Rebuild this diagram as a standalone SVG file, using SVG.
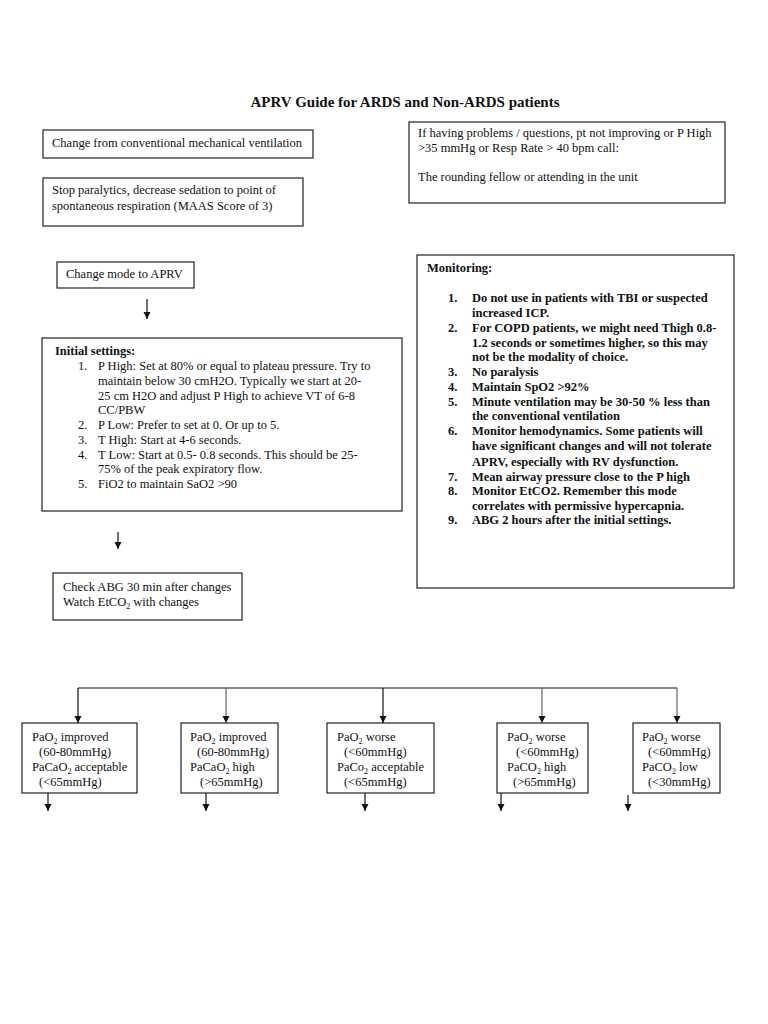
<svg xmlns="http://www.w3.org/2000/svg" width="768" height="1024" viewBox="0 0 768 1024">
<style>
text{font-family:"Liberation Serif","Times New Roman",serif;font-size:12.5px;fill:#111}
.b{font-weight:bold}
.t{font-weight:bold;font-size:15px}
.box{fill:#fff;stroke:#222;stroke-width:1.2}
.ln{stroke:#111;stroke-width:1.2;fill:none}
.lg{stroke:#666;stroke-width:1.2;fill:none}
.s{font-size:8px}
</style>
<defs>
<marker id="ah" markerWidth="8" markerHeight="8" refX="7" refY="4" orient="auto" markerUnits="userSpaceOnUse">
<path d="M0,0.5 L7,4 L0,7.5 Z" fill="#111"/>
</marker>
</defs>
<rect width="768" height="1024" fill="#fff"/>
<text class="t" x="405" y="107" text-anchor="middle">APRV Guide for ARDS and Non-ARDS patients</text>

<g id="n_change_conv">
<rect class="box" x="43" y="130" width="270" height="28"/>
<text x="52" y="147">Change from conventional mechanical ventilation</text>
</g>
<g id="n_stop_paralytics">
<rect class="box" x="43" y="178" width="260" height="48"/>
<text x="52" y="194">Stop paralytics, decrease sedation to point of</text>
<text x="52" y="210">spontaneous respiration (MAAS Score of 3)</text>
</g>
<g id="n_problems">
<rect class="box" x="409" y="122" width="316" height="81"/>
<text x="418" y="137">If having problems / questions, pt not improving or P High</text>
<text x="418" y="152">&gt;35 mmHg or Resp Rate &gt; 40 bpm call:</text>
<text x="418" y="181">The rounding fellow or attending in the unit</text>
</g>
<g id="n_change_mode">
<rect class="box" x="57" y="262" width="137" height="26"/>
<text x="66" y="278">Change mode to APRV</text>
</g>
<g id="n_initial">
<rect class="box" x="42" y="338" width="360" height="173"/>
<text class="b" x="55" y="355">Initial settings:</text>
<text x="78" y="370">1.</text><text x="98" y="370">P High: Set at 80% or equal to plateau pressure. Try to</text>
<text x="98" y="385">maintain below 30 cmH2O. Typically we start at 20-</text>
<text x="98" y="400">25 cm H2O and adjust P High to achieve VT of 6-8</text>
<text x="98" y="414">CC/PBW</text>
<text x="78" y="429">2.</text><text x="98" y="429">P Low: Prefer to set at 0. Or up to 5.</text>
<text x="78" y="444">3.</text><text x="98" y="444">T High: Start at 4-6 seconds.</text>
<text x="78" y="459">4.</text><text x="98" y="459">T Low: Start at 0.5- 0.8 seconds. This should be 25-</text>
<text x="98" y="473">75% of the peak expiratory flow.</text>
<text x="78" y="488">5.</text><text x="98" y="488">FiO2 to maintain SaO2 &gt;90</text>
</g>
<g id="n_monitoring" class="b">
<rect class="box" x="417" y="255" width="317" height="333"/>
<text class="b" x="427" y="272">Monitoring:</text>
<text class="b" x="448" y="302">1.</text><text class="b" x="472" y="302">Do not use in patients with TBI or suspected</text>
<text class="b" x="472" y="316.5">increased ICP.</text>
<text class="b" x="448" y="332">2.</text><text class="b" x="472" y="332">For COPD patients, we might need Thigh 0.8-</text>
<text class="b" x="472" y="347">1.2 seconds or sometimes higher, so this may</text>
<text class="b" x="472" y="361">not be the modality of choice.</text>
<text class="b" x="448" y="376">3.</text><text class="b" x="472" y="376">No paralysis</text>
<text class="b" x="448" y="391">4.</text><text class="b" x="472" y="391">Maintain SpO2 &gt;92%</text>
<text class="b" x="448" y="406">5.</text><text class="b" x="472" y="406">Minute ventilation may be 30-50 % less than</text>
<text class="b" x="472" y="420">the conventional ventilation</text>
<text class="b" x="448" y="435">6.</text><text class="b" x="472" y="435">Monitor hemodynamics. Some patients will</text>
<text class="b" x="472" y="450">have significant changes and will not tolerate</text>
<text class="b" x="472" y="466">APRV, especially with RV dysfunction.</text>
<text class="b" x="448" y="481">7.</text><text class="b" x="472" y="481">Mean airway pressure close to the P high</text>
<text class="b" x="448" y="495">8.</text><text class="b" x="472" y="495">Monitor EtCO2. Remember this mode</text>
<text class="b" x="472" y="510">correlates with permissive hypercapnia.</text>
<text class="b" x="448" y="524">9.</text><text class="b" x="472" y="524">ABG 2 hours after the initial settings.</text>
</g>
<g id="n_check_abg">
<rect class="box" x="53" y="573" width="189" height="47"/>
<text x="63" y="591">Check ABG 30 min after changes</text>
<text x="63" y="606">Watch EtCO<tspan class="s" dy="3">2</tspan><tspan dy="-3"> with changes</tspan></text>
</g>
<g id="n_a">
<rect class="box" x="22" y="723" width="115" height="70"/>
<text x="32" y="741">PaO<tspan class="s" dy="3">2</tspan><tspan dy="-3"> improved</tspan></text>
<text x="39" y="756">(60-80mmHg)</text>
<text x="32" y="771">PaCaO<tspan class="s" dy="3">2</tspan><tspan dy="-3"> acceptable</tspan></text>
<text x="39" y="786">(&lt;65mmHg)</text>
</g>
<g id="n_b">
<rect class="box" x="181" y="723" width="97" height="70"/>
<text x="190" y="741">PaO<tspan class="s" dy="3">2</tspan><tspan dy="-3"> improved</tspan></text>
<text x="197" y="756">(60-80mmHg)</text>
<text x="190" y="771">PaCaO<tspan class="s" dy="3">2</tspan><tspan dy="-3"> high</tspan></text>
<text x="200" y="786">(&gt;65mmHg)</text>
</g>
<g id="n_c">
<rect class="box" x="327" y="723" width="107" height="70"/>
<text x="337" y="741">PaO<tspan class="s" dy="3">2</tspan><tspan dy="-3"> worse</tspan></text>
<text x="344" y="756">(&lt;60mmHg)</text>
<text x="337" y="771">PaCo<tspan class="s" dy="3">2</tspan><tspan dy="-3"> acceptable</tspan></text>
<text x="344" y="786">(&lt;65mmHg)</text>
</g>
<g id="n_d">
<rect class="box" x="497" y="723" width="91" height="70"/>
<text x="507" y="741">PaO<tspan class="s" dy="3">2</tspan><tspan dy="-3"> worse</tspan></text>
<text x="516" y="756">(&lt;60mmHg)</text>
<text x="507" y="771">PaCO<tspan class="s" dy="3">2</tspan><tspan dy="-3"> high</tspan></text>
<text x="513" y="786">(&gt;65mmHg)</text>
</g>
<g id="n_e">
<rect class="box" x="633" y="723" width="87" height="70"/>
<text x="642" y="741">PaO<tspan class="s" dy="3">2</tspan><tspan dy="-3"> worse</tspan></text>
<text x="648" y="756">(&lt;60mmHg)</text>
<text x="642" y="771">PaCO<tspan class="s" dy="3">2</tspan><tspan dy="-3"> low</tspan></text>
<text x="648" y="786">(&lt;30mmHg)</text>
</g>

<g id="connectors">
<line class="ln" x1="147" y1="299" x2="147" y2="319" marker-end="url(#ah)"/>
<line class="ln" x1="118" y1="532" x2="118" y2="549" marker-end="url(#ah)"/>
<line class="ln" x1="78" y1="688" x2="677" y2="688"/>
<line class="ln" x1="78" y1="688" x2="78" y2="723" marker-end="url(#ah)"/>
<line class="lg" x1="226" y1="688" x2="226" y2="723" marker-end="url(#ah)"/>
<line class="ln" x1="383" y1="688" x2="383" y2="723" marker-end="url(#ah)"/>
<line class="lg" x1="542" y1="688" x2="542" y2="723" marker-end="url(#ah)"/>
<line class="lg" x1="677" y1="688" x2="677" y2="723" marker-end="url(#ah)"/>
<line class="ln" x1="48" y1="793" x2="48" y2="811" marker-end="url(#ah)"/>
<line class="ln" x1="206" y1="793" x2="206" y2="811" marker-end="url(#ah)"/>
<line class="ln" x1="365" y1="793" x2="365" y2="811" marker-end="url(#ah)"/>
<line class="ln" x1="501" y1="793" x2="501" y2="811" marker-end="url(#ah)"/>
<line class="ln" x1="628" y1="795" x2="628" y2="811" marker-end="url(#ah)"/>
</g>
</svg>
